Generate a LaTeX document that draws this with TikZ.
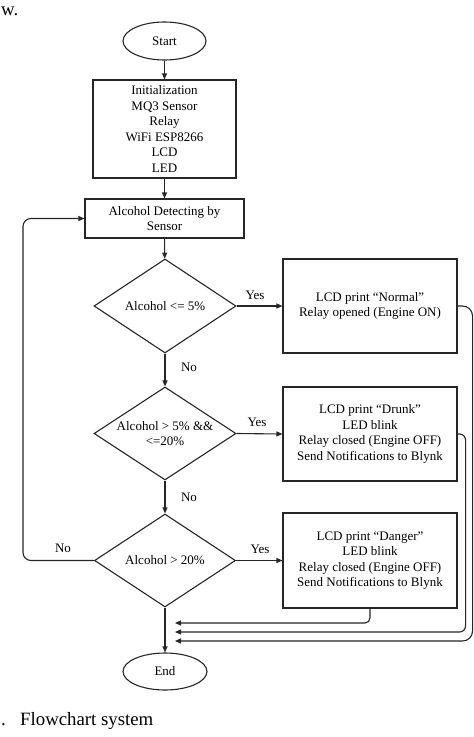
\documentclass[tikz,border=0pt]{standalone}
\usepackage{fontspec}
\setmainfont{Liberation Serif}
\usetikzlibrary{shapes.geometric,arrows.meta}
\begin{document}
\begin{tikzpicture}[x=1pt,y=-1pt,
  every node/.style={font=\fontsize{13}{15.5}\selectfont},
  ln/.style={line width=1.1pt, draw=black!85},
  arr/.style={ln, -{Triangle[length=6pt,width=5pt]}},
  box/.style={draw=black!85, line width=1.1pt, rectangle, inner sep=0pt, align=center},
  term/.style={draw=black!85, ellipse, line width=1.1pt, minimum width=83pt, minimum height=38pt, inner sep=0pt},
  dia/.style={draw=black!85, diamond, line width=1.1pt, inner sep=0pt, minimum width=142pt, minimum height=94pt},
  lbl/.style={inner sep=0pt, align=center},
  big/.style={inner sep=0pt, font=\fontsize{18.8}{22}\selectfont},
]
\fill[white] (0,0) rectangle (474,737);
\useasboundingbox (0,0) rectangle (474,737);

% page fragments
\node[big, anchor=base west] (wtxt) at (1,15) {w.};
\node[big, anchor=base west] (dot) at (1,725) {.};
\node[big, anchor=base west] (cap) at (20,725) {Flowchart system};

% main column
\node[term] (start) at (164.5,41) {Start};
\node[box, minimum width=143pt, minimum height=98pt] (init) at (164.5,129)
  {Initialization\\MQ3 Sensor\\Relay\\WiFi ESP8266\\LCD\\LED};
\node[box, minimum width=159pt, minimum height=39pt] (detect) at (164.5,218.5)
  {Alcohol Detecting by\\Sensor};

\node[dia] (d1) at (165,306) {};
\node[lbl] (d1t) at (d1.center) {Alcohol <= 5\%};
\node[dia, minimum height=93pt] (d2) at (165,433.5) {};
\node[lbl] (d2t) at (d2.center) {Alcohol > 5\% \&\&\\<=20\%};
\node[dia, minimum width=141pt, minimum height=93pt] (d3) at (165,560.5) {};
\node[lbl] (d3t) at (d3.center) {Alcohol > 20\%};

\node[term, minimum width=84pt, minimum height=37pt] (end) at (165,671.5) {End};

% action boxes
\node[box, minimum width=174pt, minimum height=94pt] (box1) at (370,306)
  {LCD print “Normal”\\Relay opened (Engine ON)};
\node[box, minimum width=174pt, minimum height=94pt] (box2) at (370,434)
  {LCD print “Drunk”\\LED blink\\Relay closed (Engine OFF)\\Send Notifications to Blynk};
\node[box, minimum width=174pt, minimum height=95pt] (box3) at (370,560.5)
  {LCD print “Danger”\\LED blink\\Relay closed (Engine OFF)\\Send Notifications to Blynk};

% labels
\node[lbl] (yes1) at (255,295) {Yes};
\node[lbl] (yes2) at (257,422) {Yes};
\node[lbl] (yes3) at (260,549) {Yes};
\node[lbl] (no1) at (189,367) {No};
\node[lbl] (no2) at (189,497) {No};
\node[lbl] (no3) at (63,548) {No};

% main connectors
\draw[arr] (start) -- (init);
\draw[arr] (init) -- (detect);
\draw[arr] (detect) -- (d1);
\draw[arr] (d1) -- (d2);
\draw[arr] (d2) -- (d3);
\draw[arr] (d3) -- (end);

\draw[arr] (d1.east) -- (box1.west);
\draw[arr] (d2.east) -- (box2.west);
\draw[arr] (d3.east) -- (box3.west);

% loop back
\draw[arr, rounded corners=8pt] (d3.west) -- (23,560.5) -- (23,218.5) -- (detect.west);

% returns to end
\coordinate (r3) at (175,623);
\coordinate (r2) at (175,632);
\coordinate (r1) at (175,641);
\draw[arr, rounded corners=5pt] (box3.south) -- (box3.south |- r3) -- (r3);
\draw[arr, rounded corners=6pt] (box2.east) -- ++(8,0) -- ++(0,198) -- (r2);
\draw[arr, rounded corners=10pt] (box1.east) -- ++(15,0) -- ++(0,335) -- (r1);
\end{tikzpicture}
\end{document}
